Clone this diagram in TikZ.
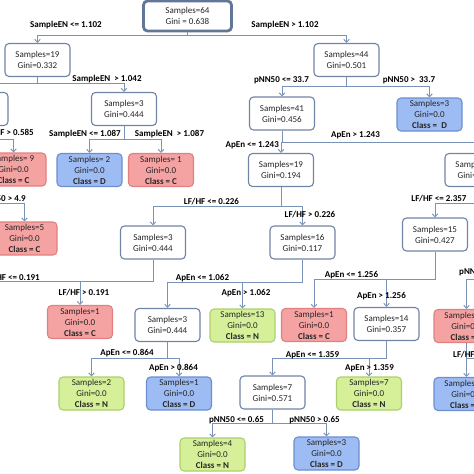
\documentclass[tikz,border=0pt]{standalone}
\usepackage{fontspec}
\setmainfont{Carlito}
\usepackage{tikz}
\usetikzlibrary{arrows.meta,positioning}

\definecolor{linecol}{RGB}{122,146,184}
\definecolor{boxcol}{RGB}{112,132,165}
\definecolor{rootcol}{RGB}{98,118,152}
\definecolor{cfill}{RGB}{245,162,162}
\definecolor{cdraw}{RGB}{226,128,128}
\definecolor{dfill}{RGB}{158,188,244}
\definecolor{ddraw}{RGB}{108,142,208}
\definecolor{nfill}{RGB}{213,240,152}
\definecolor{ndraw}{RGB}{172,208,112}

\begin{document}
\begin{tikzpicture}[
    x=1pt, y=-1pt,
    box/.style={rectangle, draw=boxcol, line width=1.1pt, rounded corners=4pt,
                fill=white, minimum width=65pt, minimum height=33pt,
                inner sep=2pt, align=center, text=black!85,
                font=\fontsize{9}{11}\selectfont},
    rootbox/.style={box, draw=rootcol, line width=2.8pt,
                    minimum width=88pt, minimum height=30pt},
    leafC/.style={box, fill=cfill, draw=cdraw},
    leafD/.style={box, fill=dfill, draw=ddraw},
    leafN/.style={box, fill=nfill, draw=ndraw},
    cond/.style={inner sep=0pt, font=\fontsize{9}{11}\selectfont\bfseries},
    wire/.style={draw=linecol, line width=1pt},
    arrow/.style={wire, -{Straight Barb[length=2.8pt,width=5.5pt]}}
]
\useasboundingbox (0,0) rectangle (474,474);
\clip (0,0) rectangle (474,474);

% split nodes
\node[rootbox] (root) at (187.5,16) {Samples=64\\Gini = 0.638};
\node[box] (n19)  at (37.5,60)   {Samples=19\\Gini=0.332};
\node[box] (n44)  at (346.5,60)  {Samples=44\\Gini=0.501};
\node[box] (l16)  at (-24.5,109) {};
\node[box] (n3a)  at (124,109)   {Samples=3\\Gini=0.444};
\node[box] (n41)  at (282,113.5) {Samples=41\\Gini=0.456};
\node[box] (n19b) at (281,170)   {Samples=19\\Gini=0.194};
\node[box] (r22)  at (477.5,170) {Samples=22\\Gini=\phantom{0.000}};
\node[box] (n3b)  at (153,242.5) {Samples=3\\Gini=0.444};
\node[box] (n16)  at (302.5,242.5) {Samples=16\\Gini=0.117};
\node[box] (n15)  at (435,234.5) {Samples=15\\Gini=0.427};
\node[box] (n3c)  at (167.5,325) {Samples=3\\Gini=0.444};
\node[box] (n14)  at (386.5,324) {Samples=14\\Gini=0.357};
\node[box] (n7)   at (272.5,392.5) {Samples=7\\Gini=0.571};

% leaves
\node[leafD] (d3a) at (429.5,114.5) {Samples=3\\Gini=0.0\\\textbf{Class = \ D}};
\node[leafC] (c9)  at (13.5,169.5)  {Samples= 9\\Gini=0.0\\\textbf{Class = C}};
\node[leafD] (d2)  at (89.5,170)    {Samples= 2\\Gini=0.0\\\textbf{Class = D}};
\node[leafC] (c1a) at (161,170)     {Samples= 1\\Gini=0.0\\\textbf{Class = C}};
\node[leafC] (c5)  at (24.5,238.5)  {Samples=5\\Gini=0.0\\\textbf{Class = C}};
\node[leafC] (c1b) at (80,322)      {Samples=1\\Gini=0.0\\\textbf{Class = C}};
\node[leafN] (n13) at (242.5,325.5) {Samples=13\\Gini=0.0\\\textbf{Class = N}};
\node[leafC] (c1c) at (314,325)     {Samples=1\\Gini=0.0\\\textbf{Class = C}};
\node[leafC] (cr)  at (466.5,326)   {Samples=\phantom{00}\\Gini=0.0\\\textbf{Class = C}};
\node[leafN] (n2)  at (91.5,393.5)  {Samples=2\\Gini=0.0\\\textbf{Class = N}};
\node[leafD] (d1)  at (179,393.5)   {Samples=1\\Gini=0.0\\\textbf{Class = D}};
\node[leafN] (n7n) at (369,393.5)   {Samples=7\\Gini=0.0\\\textbf{Class = N}};
\node[leafD] (dr)  at (466.5,394)   {Samples=\phantom{00}\\Gini=0.0\\\textbf{Class = D}};
\node[leafN] (n4)  at (212.5,454.5) {Samples=4\\Gini=0.0\\\textbf{Class = N}};
\node[leafD] (d3b) at (326.5,453.5) {Samples=3\\Gini=0.0\\\textbf{Class = D}};

% ends outside the frame
\coordinate (offA) at (-40,203);
\coordinate (offB) at (-40,281);
\coordinate (offC) at (500,279);
\coordinate (offD) at (500,358);

% connectors
\draw[arrow] (root.south) -- (root.south |- 0,35) -| (n19.north);
\draw[arrow] (root.south) -- (root.south |- 0,35) -| (n44.north);
\draw[arrow] (n19.south) -- (n19.south |- 0,83) -| (l16.north);
\draw[arrow] (n19.south) -- (n19.south |- 0,83) -| (n3a.north);
\draw[arrow] (n44.south) -- (n44.south |- 0,86) -| (n41.north);
\draw[arrow] (n44.south) -- (n44.south |- 0,86) -| (d3a.north);
\draw[arrow] (l16.south) -- (l16.south |- 0,139) -| (c9.north);
\draw[arrow] (n3a.south) -- (n3a.south |- 0,139) -| (d2.north);
\draw[arrow] (n3a.south) -- (n3a.south |- 0,139) -| (c1a.north);
\draw[arrow] (n41.south) -- (n41.south |- 0,142) -| (n19b.north);
\draw[arrow] (n41.south) -- (n41.south |- 0,142) -| (r22.north);
\draw[arrow] (offA) -| (c5.north);
\draw[arrow] (n19b.south) -- (n19b.south |- 0,206) -| (n3b.north);
\draw[arrow] (n19b.south) -- (n19b.south |- 0,206) -| (n16.north);
\draw[arrow] (r22.south) -- (r22.south |- 0,203) -| (n15.north);
\draw[wire]  (n3b.south) |- (offB);
\draw[arrow] (n3b.south) -- (n3b.south |- 0,281) -| (c1b.north);
\draw[arrow] (n16.south) -- (n16.south |- 0,282) -| (n3c.north);
\draw[arrow] (n16.south) -- (n16.south |- 0,282) -| (n13.north);
\draw[arrow] (n15.south) -- (n15.south |- 0,279) -| (c1c.north);
\draw[arrow] (n15.south) -- (n15.south |- 0,279) -| (n14.north);
\draw[arrow] (offC) -| (cr.north);
\draw[arrow] (n3c.south) -- (n3c.south |- 0,358) -| (n2.north);
\draw[arrow] (n3c.south) -- (n3c.south |- 0,358) -| (d1.north);
\draw[arrow] (n14.south) -- (n14.south |- 0,358) -| (n7.north);
\draw[arrow] (n14.south) -- (n14.south |- 0,358) -| (n7n.north);
\draw[wire]  (cr.south) |- (offD);
\draw[arrow] (cr.south) -- (dr.north);
\draw[arrow] (n7.south) -- (n7.south |- 0,423) -| (n4.north);
\draw[arrow] (n7.south) -- (n7.south |- 0,423) -| (d3b.north);

% split conditions
\node[cond] (t1)  at (66,25)    {SampleEN <= 1.102};
\node[cond] (t2)  at (285,25)   {SampleEN > 1.102};
\node[cond] (t3)  at (107,79)   {SampleEN \ > 1.042};
\node[cond] (t4)  at (281.5,80) {pNN50 <= 33.7};
\node[cond] (t5)  at (409,80)   {pNN50 > \ 33.7};
\node[cond, anchor=east] (t6) at (34,133) {LF/HF > 0.585};
\node[cond] (t7)  at (85,134)   {SampleEN <= 1.087};
\node[cond] (t8)  at (169.5,134) {SampleEN \ > 1.087};
\node[cond, anchor=east] (t9) at (279,145) {ApEn <= 1.243};
\node[cond] (t10) at (355.5,135) {ApEn > 1.243};
\node[cond, anchor=east] (t11) at (26,199) {pNN50 > 4.9};
\node[cond] (t12) at (211.5,202) {LF/HF <= 0.226};
\node[cond] (t13) at (310,215)  {LF/HF > 0.226};
\node[cond] (t14) at (439,199)  {LF/HF <= 2.357};
\node[cond, anchor=east] (t15) at (40,278) {LF/HF <= 0.191};
\node[cond] (t16) at (84,293)   {LF/HF > 0.191};
\node[cond] (t17) at (202.5,278) {ApEn <= 1.062};
\node[cond] (t18) at (246,293)  {ApEn > 1.062};
\node[cond] (t19) at (351.5,275) {ApEn <= 1.256};
\node[cond] (t20) at (381.5,296) {ApEn > 1.256};
\node[cond, anchor=west] (t21) at (459,272) {pNN50};
\node[cond] (t22) at (127,353)  {ApEn <= 0.864};
\node[cond] (t23) at (173.5,368) {ApEn > 0.864};
\node[cond] (t24) at (312.5,355) {ApEn <= 1.359};
\node[cond] (t25) at (369.5,368) {ApEn > 1.359};
\node[cond, anchor=west] (t26) at (453,355) {LF/HF};
\node[cond] (t27) at (236.5,420) {pNN50 <= 0.65};
\node[cond] (t28) at (314.5,420) {pNN50 > 0.65};
\end{tikzpicture}
\end{document}
